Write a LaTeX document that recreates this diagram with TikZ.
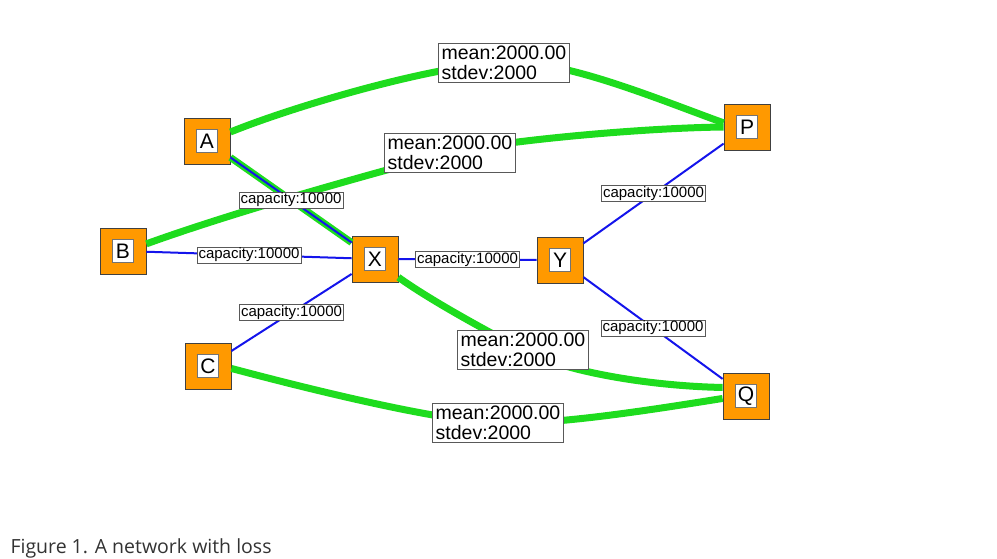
\documentclass[tikz,border=0pt]{standalone}
\usepackage{fontspec}
\setmainfont{Liberation Sans}
\newfontfamily\captionfont{Open Sans}
\usepackage{tikz}
\usetikzlibrary{calc}
\usetikzlibrary{positioning}
\definecolor{flowgreen}{RGB}{30,220,30}
\definecolor{capblue}{RGB}{20,20,235}
\definecolor{vorange}{RGB}{255,153,0}
\begin{document}
\begin{tikzpicture}[x=1pt,y=-1pt]
\tikzstyle{vertex}=[rectangle,draw=black!75,line width=0.8pt,fill=vorange,minimum size=46,inner sep=0pt]
\tikzstyle{letter}=[rectangle,draw=black!55,fill=white,minimum width=21,minimum height=23,inner sep=0pt,font=\fontsize{21}{21}\selectfont]
\tikzstyle{flow}=[draw=flowgreen,line width=7pt]
\tikzstyle{capline}=[draw=capblue,line width=2pt]
\tikzstyle{capbox}=[rectangle,draw=black!65,fill=white,line width=0.8pt,inner xsep=1.5pt,inner ysep=1pt,font=\fontsize{15}{15}\selectfont]
\tikzstyle{meanbox}=[rectangle,align=left,draw=black!65,fill=white,line width=0.8pt,inner xsep=3pt,inner ysep=2.5pt,font=\fontsize{19.5}{20}\selectfont]
\useasboundingbox (0,0) rectangle (997,559);
\node[vertex,label={[letter]center:A}] at(207, 141) (A) {};
\node[vertex,label={[letter]center:B}] at(123, 251) (B) {};
\node[vertex,label={[letter]center:C}] at(208, 366) (C) {};
\node[vertex,label={[letter]center:X}] at(375, 259) (X) {};
\node[vertex,label={[letter]center:Y}] at(560, 260) (Y) {};
\node[vertex,label={[letter]center:P}] at(747, 127) (P) {};
\node[vertex,label={[letter]center:Q}] at(746, 396) (Q) {};
\coordinate (mAP) at(504, 63);
\coordinate (mBP) at(450, 153);
\coordinate (mXQ) at(523, 350);
\coordinate (mCQ) at(498, 423);
% flows
\draw[flow] (A) -- (X);
\draw[flow] (A.21) .. controls (300, 104) and (440, 64) .. (mAP)
  .. controls (560, 58) and (655, 98) .. (P.170);
\draw[flow] (B.17) .. controls (240, 210) and (385, 170) .. (mBP)
  .. controls (500, 141) and (640, 128) .. (P.west);
\draw[flow] (X.-38) .. controls (430, 300) and (485, 330) .. (mXQ)
  .. controls (565, 372) and (650, 386) .. (Q.160);
\draw[flow] (C.-6) .. controls (320, 392) and (440, 421) .. (mCQ)
  .. controls (556, 425) and (650, 410) .. (Q.186);
% capacities
\foreach \s/\t in {A/X, B/X, C/X, X/Y, Y/P, Y/Q}
  \draw[capline] (\s) -- (\t) node[midway,capbox] {capacity:10000};
\foreach \m in {mAP, mBP, mXQ, mCQ}
  \node[meanbox] at(\m) {mean:2000.00\\stdev:2000};
\node[anchor=base west,text=black!80,font=\captionfont\fontsize{19.5}{20}\selectfont] at(7, 553) (caption) {Figure 1. A network with loss};
\end{tikzpicture}
\end{document}
